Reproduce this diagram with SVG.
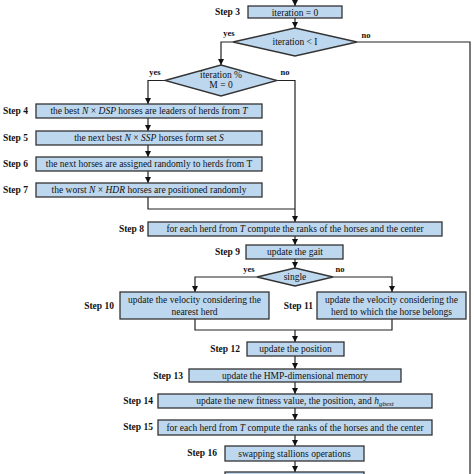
<svg xmlns="http://www.w3.org/2000/svg" width="474" height="474" viewBox="0 0 474 474">
<defs>
<marker id="ah" markerWidth="6" markerHeight="6" refX="6" refY="3" orient="auto" markerUnits="userSpaceOnUse">
<path d="M0,0 L6,3 L0,6 z" fill="#111"/>
</marker>
<style>
.box{fill:#bdd7ee;stroke:#333;stroke-width:1.3}
.t{font-family:"Liberation Serif","Times New Roman",serif;font-size:9.5px;fill:#111;text-anchor:middle}
.s{font-family:"Liberation Serif","Times New Roman",serif;font-size:9.5px;font-weight:bold;fill:#111;text-anchor:end}
.yn{font-family:"Liberation Serif","Times New Roman",serif;font-size:8.5px;font-weight:bold;fill:#111;text-anchor:middle}
.ln{fill:none;stroke:#222;stroke-width:1.2}
.i{font-style:italic}
</style>
</defs>
<rect width="474" height="474" fill="#fff"/>
<g id="connectors">
<path class="ln" d="M295,0 V6" marker-end="url(#ah)"/>
<path class="ln" d="M295,18 V28" marker-end="url(#ah)"/>
<path class="ln" d="M233,42 H221 V65" marker-end="url(#ah)"/>
<path class="ln" d="M357,42 H470 V474"/>
<path class="ln" d="M165,80.5 H148 V104" marker-end="url(#ah)"/>
<path class="ln" d="M277,80.5 H295 V222" marker-end="url(#ah)"/>
<path class="ln" d="M148,118 V131" marker-end="url(#ah)"/>
<path class="ln" d="M148,145 V157" marker-end="url(#ah)"/>
<path class="ln" d="M148,171 V183" marker-end="url(#ah)"/>
<path class="ln" d="M148,197 V209 H295"/>
<path class="ln" d="M295,236 V245" marker-end="url(#ah)"/>
<path class="ln" d="M295,259 V268" marker-end="url(#ah)"/>
<path class="ln" d="M257,277 H195 V292" marker-end="url(#ah)"/>
<path class="ln" d="M333,277 H392 V292" marker-end="url(#ah)"/>
<path class="ln" d="M195,319 V330 H392 V319"/>
<path class="ln" d="M295,330 V342" marker-end="url(#ah)"/>
<path class="ln" d="M295,356 V369" marker-end="url(#ah)"/>
<path class="ln" d="M295,382 V394" marker-end="url(#ah)"/>
<path class="ln" d="M295,408 V420" marker-end="url(#ah)"/>
<path class="ln" d="M295,435 V446" marker-end="url(#ah)"/>
<path class="ln" d="M295,461 V472" marker-end="url(#ah)"/>
<text class="yn" x="229" y="36">yes</text>
<text class="yn" x="366" y="38">no</text>
<text class="yn" x="155" y="75">yes</text>
<text class="yn" x="285" y="75">no</text>
<text class="yn" x="249" y="272">yes</text>
<text class="yn" x="340" y="272">no</text>
</g>
<g id="step3">
<text class="s" x="240" y="15">Step 3</text>
<rect class="box" x="248" y="6" width="94" height="12"/>
<text class="t" x="295" y="15.5">iteration = 0</text>
</g>
<g id="cond1">
<polygon class="box" points="233,42 295,28 357,42 295,56"/>
<text class="t" x="295" y="45">iteration &lt; I</text>
</g>
<g id="cond2">
<polygon class="box" points="165,80.5 221,65 277,80.5 221,96"/>
<text class="t" x="221" y="78">iteration %</text>
<text class="t" x="221" y="88">M = 0</text>
</g>
<g id="step4">
<text class="s" x="28" y="114">Step 4</text>
<rect class="box" x="36" y="104" width="226" height="14"/>
<text class="t" x="149" y="114">the best <tspan class="i">N</tspan> × <tspan class="i">DSP</tspan> horses are leaders of herds from <tspan class="i">T</tspan></text>
</g>
<g id="step5">
<text class="s" x="28" y="141">Step 5</text>
<rect class="box" x="36" y="131" width="226" height="14"/>
<text class="t" x="149" y="141">the next best <tspan class="i">N</tspan> × <tspan class="i">SSP</tspan> horses form set <tspan class="i">S</tspan></text>
</g>
<g id="step6">
<text class="s" x="28" y="167">Step 6</text>
<rect class="box" x="36" y="157" width="226" height="14"/>
<text class="t" x="149" y="167">the next horses are assigned randomly to herds from T</text>
</g>
<g id="step7">
<text class="s" x="28" y="193">Step 7</text>
<rect class="box" x="36" y="183" width="226" height="14"/>
<text class="t" x="149" y="193">the worst <tspan class="i">N</tspan> × <tspan class="i">HDR</tspan> horses are positioned randomly</text>
</g>
<g id="step8">
<text class="s" x="144" y="232">Step 8</text>
<rect class="box" x="148" y="222" width="294" height="14"/>
<text class="t" x="295" y="232">for each herd from <tspan class="i">T</tspan> compute the ranks of the horses and the center</text>
</g>
<g id="step9">
<text class="s" x="240" y="255">Step 9</text>
<rect class="box" x="246" y="245" width="97" height="14"/>
<text class="t" x="295" y="255">update the gait</text>
</g>
<g id="single">
<polygon class="box" points="257,277 295,268 333,277 295,286"/>
<text class="t" x="295" y="280">single</text>
</g>
<g id="step10">
<text class="s" x="114" y="309">Step 10</text>
<rect class="box" x="120" y="292" width="149" height="27"/>
<text class="t" x="194.5" y="303">update the velocity considering the</text>
<text class="t" x="194.5" y="315">nearest herd</text>
</g>
<g id="step11">
<text class="s" x="313" y="309">Step 11</text>
<rect class="box" x="317" y="292" width="149" height="27"/>
<text class="t" x="391.5" y="303">update the velocity considering the</text>
<text class="t" x="391.5" y="315">herd to which the horse belongs</text>
</g>
<g id="step12">
<text class="s" x="240" y="352">Step 12</text>
<rect class="box" x="247" y="342" width="97" height="14"/>
<text class="t" x="295.5" y="352">update the position</text>
</g>
<g id="step13">
<text class="s" x="183" y="379">Step 13</text>
<rect class="box" x="189" y="369" width="212" height="13"/>
<text class="t" x="295" y="379">update the HMP-dimensional memory</text>
</g>
<g id="step14">
<text class="s" x="153" y="404">Step 14</text>
<rect class="box" x="158" y="394" width="274" height="14"/>
<text class="t" x="295" y="404">update the new fitness value, the position, and <tspan class="i">h</tspan><tspan class="i" font-size="7" dy="2">gbest</tspan></text>
</g>
<g id="step15">
<text class="s" x="153" y="430">Step 15</text>
<rect class="box" x="158" y="420" width="274" height="15"/>
<text class="t" x="295" y="430.5">for each herd from <tspan class="i">T</tspan> compute the ranks of the horses and the center</text>
</g>
<g id="step16">
<text class="s" x="217" y="456">Step 16</text>
<rect class="box" x="225" y="446" width="139" height="15"/>
<text class="t" x="294.5" y="456.5">swapping stallions operations</text>
</g>
<g id="step17">
<rect class="box" x="225" y="472" width="139" height="14"/>
</g>
</svg>
